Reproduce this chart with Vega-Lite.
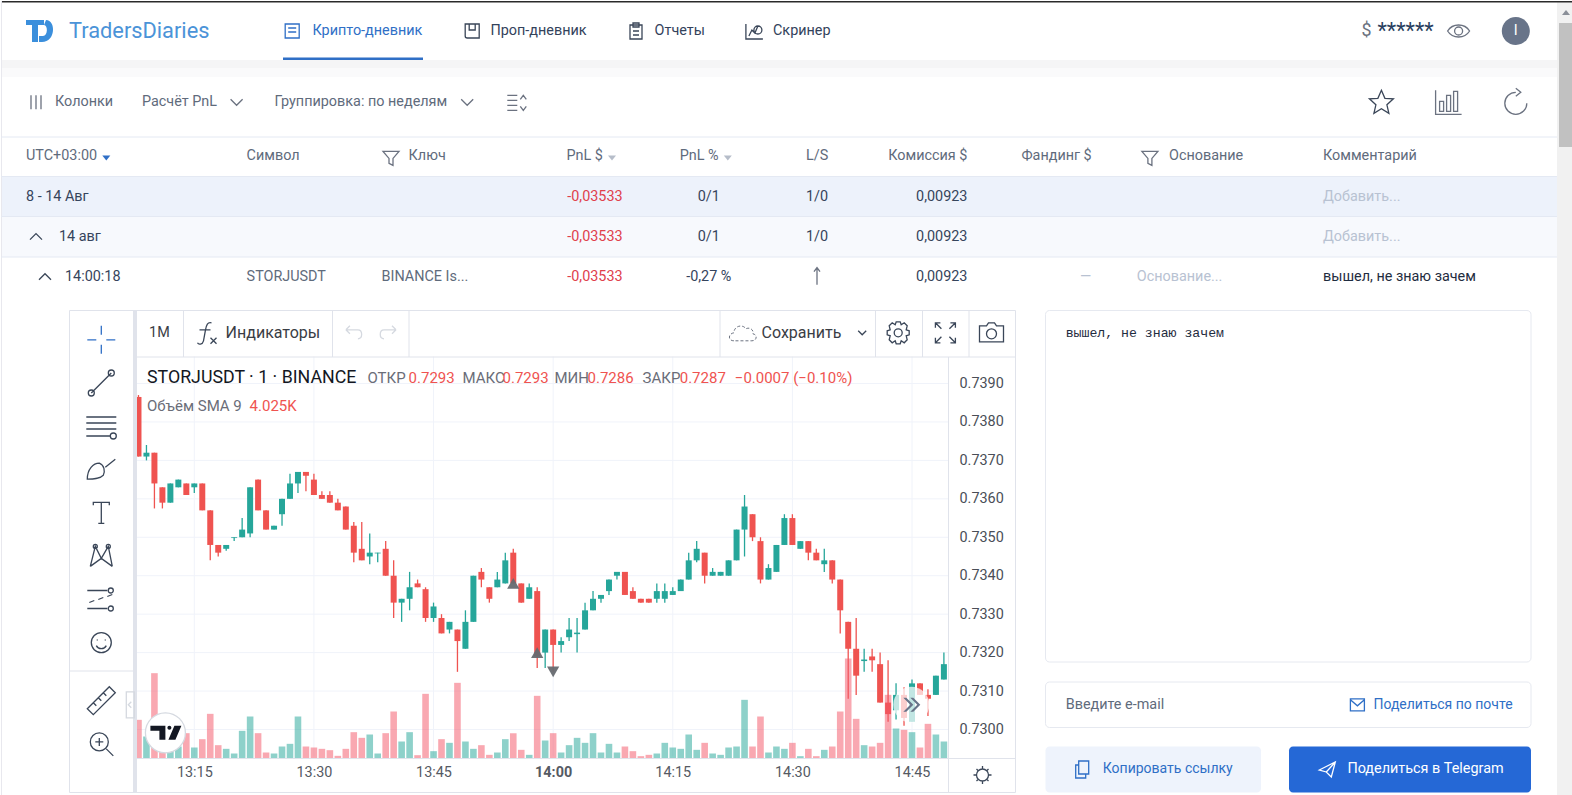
{
  "$schema": "https://vega.github.io/schema/vega-lite/v6.json",
  "description": "TradersDiaries trade journal page with a one minute STORJUSDT candlestick chart and volume.",
  "width": 1572,
  "height": 795,
  "autosize": {"type": "fit", "contains": "padding"},
  "padding": 0,
  "background": "#ffffff",
  "config": {"view": {"stroke": null}},
  "resolve": {
    "scale": {"x": "independent", "y": "independent", "color": "independent", "shape": "independent"},
    "axis": {"x": "independent", "y": "independent"}
  },
  "datasets": {
    "candles": [
      {"t":"2022-08-14T13:08:00","open":0.73865,"high":0.7387,"low":0.7371,"close":0.7371,"volume":2320,"side":"down"},
      {"t":"2022-08-14T13:09:00","open":0.7371,"high":0.7374,"low":0.737,"close":0.7372,"volume":1320,"side":"up"},
      {"t":"2022-08-14T13:10:00","open":0.7372,"high":0.7372,"low":0.73575,"close":0.7364,"volume":5120,"side":"down"},
      {"t":"2022-08-14T13:11:00","open":0.7363,"high":0.7363,"low":0.73575,"close":0.7359,"volume":520,"side":"down"},
      {"t":"2022-08-14T13:12:00","open":0.7359,"high":0.7364,"low":0.7359,"close":0.7364,"volume":520,"side":"up"},
      {"t":"2022-08-14T13:13:00","open":0.7363,"high":0.7365,"low":0.7363,"close":0.7365,"volume":720,"side":"up"},
      {"t":"2022-08-14T13:14:00","open":0.7364,"high":0.7364,"low":0.7361,"close":0.7361,"volume":1520,"side":"down"},
      {"t":"2022-08-14T13:15:00","open":0.7363,"high":0.7364,"low":0.73615,"close":0.7364,"volume":660,"side":"up"},
      {"t":"2022-08-14T13:16:00","open":0.7364,"high":0.7364,"low":0.7357,"close":0.7357,"volume":1160,"side":"down"},
      {"t":"2022-08-14T13:17:00","open":0.7357,"high":0.7357,"low":0.7344,"close":0.7348,"volume":2680,"side":"down"},
      {"t":"2022-08-14T13:18:00","open":0.7348,"high":0.7348,"low":0.7345,"close":0.7346,"volume":800,"side":"down"},
      {"t":"2022-08-14T13:19:00","open":0.7347,"high":0.7348,"low":0.73465,"close":0.7348,"volume":580,"side":"up"},
      {"t":"2022-08-14T13:20:00","open":0.73498,"high":0.735,"low":0.7349,"close":0.735,"volume":300,"side":"up"},
      {"t":"2022-08-14T13:21:00","open":0.735,"high":0.7355,"low":0.735,"close":0.7352,"volume":1660,"side":"up"},
      {"t":"2022-08-14T13:22:00","open":0.7351,"high":0.7363,"low":0.735,"close":0.7363,"volume":2520,"side":"up"},
      {"t":"2022-08-14T13:23:00","open":0.7365,"high":0.7365,"low":0.7357,"close":0.7357,"volume":1520,"side":"down"},
      {"t":"2022-08-14T13:24:00","open":0.7357,"high":0.7357,"low":0.7352,"close":0.7352,"volume":360,"side":"down"},
      {"t":"2022-08-14T13:25:00","open":0.7352,"high":0.7353,"low":0.7352,"close":0.7353,"volume":300,"side":"up"},
      {"t":"2022-08-14T13:26:00","open":0.7356,"high":0.736,"low":0.7353,"close":0.736,"volume":720,"side":"up"},
      {"t":"2022-08-14T13:27:00","open":0.736,"high":0.73665,"low":0.736,"close":0.7364,"volume":880,"side":"up"},
      {"t":"2022-08-14T13:28:00","open":0.7364,"high":0.7367,"low":0.73615,"close":0.7367,"volume":2520,"side":"up"},
      {"t":"2022-08-14T13:29:00","open":0.7367,"high":0.7367,"low":0.7362,"close":0.7366,"volume":720,"side":"down"},
      {"t":"2022-08-14T13:30:00","open":0.7365,"high":0.73665,"low":0.7361,"close":0.7361,"volume":660,"side":"down"},
      {"t":"2022-08-14T13:31:00","open":0.7361,"high":0.7362,"low":0.736,"close":0.736,"volume":580,"side":"down"},
      {"t":"2022-08-14T13:32:00","open":0.7361,"high":0.7362,"low":0.7359,"close":0.7359,"volume":500,"side":"down"},
      {"t":"2022-08-14T13:33:00","open":0.7359,"high":0.736,"low":0.7357,"close":0.7357,"volume":160,"side":"down"},
      {"t":"2022-08-14T13:34:00","open":0.7358,"high":0.7358,"low":0.7352,"close":0.7352,"volume":580,"side":"down"},
      {"t":"2022-08-14T13:35:00","open":0.7353,"high":0.7354,"low":0.73435,"close":0.7346,"volume":1580,"side":"down"},
      {"t":"2022-08-14T13:36:00","open":0.7347,"high":0.7354,"low":0.7344,"close":0.7344,"volume":1240,"side":"down"},
      {"t":"2022-08-14T13:37:00","open":0.7345,"high":0.7351,"low":0.7343,"close":0.7346,"volume":1440,"side":"up"},
      {"t":"2022-08-14T13:38:00","open":0.73458,"high":0.7346,"low":0.73435,"close":0.7346,"volume":300,"side":"up"},
      {"t":"2022-08-14T13:39:00","open":0.7347,"high":0.7349,"low":0.734,"close":0.734,"volume":1520,"side":"down"},
      {"t":"2022-08-14T13:40:00","open":0.734,"high":0.7344,"low":0.7329,"close":0.7333,"volume":2820,"side":"down"},
      {"t":"2022-08-14T13:41:00","open":0.7333,"high":0.7334,"low":0.7328,"close":0.7334,"volume":1020,"side":"up"},
      {"t":"2022-08-14T13:42:00","open":0.7334,"high":0.7341,"low":0.7331,"close":0.7337,"volume":1580,"side":"up"},
      {"t":"2022-08-14T13:43:00","open":0.7338,"high":0.7339,"low":0.7337,"close":0.7337,"volume":200,"side":"down"},
      {"t":"2022-08-14T13:44:00","open":0.73365,"high":0.7337,"low":0.7328,"close":0.7329,"volume":3880,"side":"down"},
      {"t":"2022-08-14T13:45:00","open":0.7329,"high":0.7333,"low":0.7328,"close":0.7332,"volume":440,"side":"up"},
      {"t":"2022-08-14T13:46:00","open":0.7329,"high":0.733,"low":0.7325,"close":0.7325,"volume":1160,"side":"down"},
      {"t":"2022-08-14T13:47:00","open":0.7326,"high":0.7328,"low":0.7325,"close":0.7328,"volume":940,"side":"up"},
      {"t":"2022-08-14T13:48:00","open":0.7326,"high":0.7326,"low":0.7315,"close":0.7323,"volume":4540,"side":"down"},
      {"t":"2022-08-14T13:49:00","open":0.7321,"high":0.7331,"low":0.7321,"close":0.7328,"volume":1020,"side":"up"},
      {"t":"2022-08-14T13:50:00","open":0.7328,"high":0.734,"low":0.7328,"close":0.734,"volume":580,"side":"up"},
      {"t":"2022-08-14T13:51:00","open":0.7341,"high":0.7342,"low":0.7337,"close":0.7339,"volume":800,"side":"down"},
      {"t":"2022-08-14T13:52:00","open":0.7337,"high":0.7337,"low":0.7333,"close":0.7334,"volume":220,"side":"down"},
      {"t":"2022-08-14T13:53:00","open":0.7337,"high":0.7341,"low":0.7337,"close":0.7339,"volume":360,"side":"up"},
      {"t":"2022-08-14T13:54:00","open":0.7338,"high":0.7346,"low":0.7338,"close":0.7344,"volume":1160,"side":"up"},
      {"t":"2022-08-14T13:55:00","open":0.7346,"high":0.7347,"low":0.7338,"close":0.7338,"volume":1520,"side":"down"},
      {"t":"2022-08-14T13:56:00","open":0.7338,"high":0.7338,"low":0.7333,"close":0.7333,"volume":520,"side":"down"},
      {"t":"2022-08-14T13:57:00","open":0.7334,"high":0.7338,"low":0.7334,"close":0.7337,"volume":220,"side":"up"},
      {"t":"2022-08-14T13:58:00","open":0.7336,"high":0.7337,"low":0.7316,"close":0.7319,"volume":3760,"side":"down"},
      {"t":"2022-08-14T13:59:00","open":0.732,"high":0.7326,"low":0.7316,"close":0.7326,"volume":1080,"side":"up"},
      {"t":"2022-08-14T14:00:00","open":0.7326,"high":0.7326,"low":0.7315,"close":0.7322,"volume":1520,"side":"down"},
      {"t":"2022-08-14T14:01:00","open":0.7322,"high":0.7324,"low":0.732,"close":0.7323,"volume":360,"side":"up"},
      {"t":"2022-08-14T14:02:00","open":0.7324,"high":0.7329,"low":0.7323,"close":0.7326,"volume":800,"side":"up"},
      {"t":"2022-08-14T14:03:00","open":0.73248,"high":0.7329,"low":0.732,"close":0.73252,"volume":1240,"side":"up"},
      {"t":"2022-08-14T14:04:00","open":0.7326,"high":0.7333,"low":0.7326,"close":0.7331,"volume":940,"side":"up"},
      {"t":"2022-08-14T14:05:00","open":0.7331,"high":0.7336,"low":0.7331,"close":0.7334,"volume":1520,"side":"up"},
      {"t":"2022-08-14T14:06:00","open":0.7334,"high":0.7335,"low":0.7333,"close":0.7335,"volume":360,"side":"up"},
      {"t":"2022-08-14T14:07:00","open":0.7336,"high":0.7339,"low":0.7335,"close":0.7339,"volume":880,"side":"up"},
      {"t":"2022-08-14T14:08:00","open":0.734,"high":0.7341,"low":0.7339,"close":0.7341,"volume":360,"side":"up"},
      {"t":"2022-08-14T14:09:00","open":0.7341,"high":0.7341,"low":0.7335,"close":0.7335,"volume":720,"side":"down"},
      {"t":"2022-08-14T14:10:00","open":0.7336,"high":0.7337,"low":0.7334,"close":0.7334,"volume":440,"side":"down"},
      {"t":"2022-08-14T14:11:00","open":0.7334,"high":0.7334,"low":0.7333,"close":0.7333,"volume":140,"side":"down"},
      {"t":"2022-08-14T14:12:00","open":0.7334,"high":0.7334,"low":0.7333,"close":0.7333,"volume":220,"side":"down"},
      {"t":"2022-08-14T14:13:00","open":0.7334,"high":0.7338,"low":0.7333,"close":0.7336,"volume":300,"side":"up"},
      {"t":"2022-08-14T14:14:00","open":0.7334,"high":0.7338,"low":0.7333,"close":0.7336,"volume":940,"side":"up"},
      {"t":"2022-08-14T14:15:00","open":0.7335,"high":0.7337,"low":0.7335,"close":0.7336,"volume":660,"side":"up"},
      {"t":"2022-08-14T14:16:00","open":0.7336,"high":0.7339,"low":0.7336,"close":0.7339,"volume":580,"side":"up"},
      {"t":"2022-08-14T14:17:00","open":0.7339,"high":0.7346,"low":0.7339,"close":0.7344,"volume":1440,"side":"up"},
      {"t":"2022-08-14T14:18:00","open":0.7344,"high":0.7349,"low":0.73435,"close":0.7347,"volume":520,"side":"up"},
      {"t":"2022-08-14T14:19:00","open":0.7346,"high":0.7346,"low":0.7338,"close":0.734,"volume":940,"side":"down"},
      {"t":"2022-08-14T14:20:00","open":0.734,"high":0.7342,"low":0.734,"close":0.7341,"volume":300,"side":"up"},
      {"t":"2022-08-14T14:21:00","open":0.734,"high":0.7341,"low":0.734,"close":0.7341,"volume":220,"side":"up"},
      {"t":"2022-08-14T14:22:00","open":0.734,"high":0.7344,"low":0.734,"close":0.7344,"volume":660,"side":"up"},
      {"t":"2022-08-14T14:23:00","open":0.7344,"high":0.7352,"low":0.7344,"close":0.7352,"volume":720,"side":"up"},
      {"t":"2022-08-14T14:24:00","open":0.7352,"high":0.7361,"low":0.7345,"close":0.7358,"volume":3520,"side":"up"},
      {"t":"2022-08-14T14:25:00","open":0.7356,"high":0.7356,"low":0.7349,"close":0.735,"volume":720,"side":"down"},
      {"t":"2022-08-14T14:26:00","open":0.7349,"high":0.735,"low":0.7338,"close":0.7339,"volume":2520,"side":"down"},
      {"t":"2022-08-14T14:27:00","open":0.7339,"high":0.7343,"low":0.7339,"close":0.7342,"volume":360,"side":"up"},
      {"t":"2022-08-14T14:28:00","open":0.7341,"high":0.7348,"low":0.7341,"close":0.7348,"volume":720,"side":"up"},
      {"t":"2022-08-14T14:29:00","open":0.7348,"high":0.7356,"low":0.7348,"close":0.7355,"volume":580,"side":"up"},
      {"t":"2022-08-14T14:30:00","open":0.7355,"high":0.7356,"low":0.7348,"close":0.7348,"volume":940,"side":"down"},
      {"t":"2022-08-14T14:31:00","open":0.7347,"high":0.7349,"low":0.7347,"close":0.7349,"volume":140,"side":"up"},
      {"t":"2022-08-14T14:32:00","open":0.7349,"high":0.7349,"low":0.7344,"close":0.7346,"volume":580,"side":"down"},
      {"t":"2022-08-14T14:33:00","open":0.7346,"high":0.7347,"low":0.7344,"close":0.7344,"volume":140,"side":"down"},
      {"t":"2022-08-14T14:34:00","open":0.7343,"high":0.7347,"low":0.7341,"close":0.7344,"volume":520,"side":"up"},
      {"t":"2022-08-14T14:35:00","open":0.7344,"high":0.7344,"low":0.7338,"close":0.7339,"volume":720,"side":"down"},
      {"t":"2022-08-14T14:36:00","open":0.7339,"high":0.7339,"low":0.7325,"close":0.7331,"volume":2820,"side":"down"},
      {"t":"2022-08-14T14:37:00","open":0.7328,"high":0.7328,"low":0.7308,"close":0.7321,"volume":6000,"side":"down"},
      {"t":"2022-08-14T14:38:00","open":0.7321,"high":0.7329,"low":0.7309,"close":0.7314,"volume":2380,"side":"down"},
      {"t":"2022-08-14T14:39:00","open":0.73178,"high":0.7321,"low":0.7315,"close":0.73182,"volume":800,"side":"up"},
      {"t":"2022-08-14T14:40:00","open":0.7319,"high":0.7321,"low":0.7315,"close":0.7318,"volume":720,"side":"down"},
      {"t":"2022-08-14T14:41:00","open":0.7317,"high":0.732,"low":0.7307,"close":0.7307,"volume":940,"side":"down"},
      {"t":"2022-08-14T14:42:00","open":0.7307,"high":0.7318,"low":0.7302,"close":0.7304,"volume":3820,"side":"down"},
      {"t":"2022-08-14T14:43:00","open":0.7305,"high":0.7312,"low":0.73026,"close":0.7309,"volume":1800,"side":"up"},
      {"t":"2022-08-14T14:44:00","open":0.7309,"high":0.7311,"low":0.7301,"close":0.7303,"volume":1720,"side":"down"},
      {"t":"2022-08-14T14:45:00","open":0.7302,"high":0.7313,"low":0.7302,"close":0.7312,"volume":1580,"side":"up"},
      {"t":"2022-08-14T14:46:00","open":0.7312,"high":0.7312,"low":0.7309,"close":0.7309,"volume":660,"side":"down"},
      {"t":"2022-08-14T14:47:00","open":0.7309,"high":0.73105,"low":0.73035,"close":0.7308,"volume":2080,"side":"down"},
      {"t":"2022-08-14T14:48:00","open":0.7309,"high":0.7314,"low":0.7309,"close":0.7314,"volume":1440,"side":"up"},
      {"t":"2022-08-14T14:49:00","open":0.7313,"high":0.732,"low":0.7313,"close":0.7317,"volume":1020,"side":"up"},
      {"t":"2022-08-14T14:50:00","open":0.7316,"high":0.7318,"low":0.7316,"close":0.7318,"volume":1220,"side":"up"}
    ],
    "priceLines": [
      {"price":0.73,"from":"2022-08-14T13:07:00","to":"2022-08-14T14:50:00"},
      {"price":0.731,"from":"2022-08-14T13:07:00","to":"2022-08-14T14:50:00"},
      {"price":0.732,"from":"2022-08-14T13:07:00","to":"2022-08-14T14:50:00"},
      {"price":0.733,"from":"2022-08-14T13:07:00","to":"2022-08-14T14:50:00"},
      {"price":0.734,"from":"2022-08-14T13:07:00","to":"2022-08-14T14:50:00"},
      {"price":0.735,"from":"2022-08-14T13:07:00","to":"2022-08-14T14:50:00"},
      {"price":0.736,"from":"2022-08-14T13:07:00","to":"2022-08-14T14:50:00"},
      {"price":0.737,"from":"2022-08-14T13:07:00","to":"2022-08-14T14:50:00"},
      {"price":0.738,"from":"2022-08-14T13:07:00","to":"2022-08-14T14:50:00"},
      {"price":0.739,"from":"2022-08-14T13:07:00","to":"2022-08-14T14:50:00"}
    ],
    "timeLines": [
      {"t":"2022-08-14T13:15:00","top":0.7397,"bottom":0.7293},
      {"t":"2022-08-14T13:30:00","top":0.7397,"bottom":0.7293},
      {"t":"2022-08-14T13:45:00","top":0.7397,"bottom":0.7293},
      {"t":"2022-08-14T14:00:00","top":0.7397,"bottom":0.7293},
      {"t":"2022-08-14T14:15:00","top":0.7397,"bottom":0.7293},
      {"t":"2022-08-14T14:30:00","top":0.7397,"bottom":0.7293},
      {"t":"2022-08-14T14:45:00","top":0.7397,"bottom":0.7293}
    ],
    "executions": [
      {"t":"2022-08-14T13:55:00","price":0.7338,"side":"up"},
      {"t":"2022-08-14T13:58:00","price":0.732,"side":"up"},
      {"t":"2022-08-14T14:00:00","price":0.7315,"side":"down"}
    ],
    "fills": [
      {"left":20,"right":23,"top":0,"bottom":21,"kind":"track"},
      {"left":21,"right":22,"top":2,"bottom":8,"kind":"thumb"},
      {"left":0,"right":23,"top":0,"bottom":1,"kind":"dark"},
      {"left":0,"right":20,"top":4,"bottom":5,"kind":"shade1"},
      {"left":0,"right":20,"top":5,"bottom":6,"kind":"shade2"},
      {"left":6,"right":9,"top":3,"bottom":4,"kind":"accent"},
      {"left":0,"right":20,"top":9,"bottom":10,"kind":"week"},
      {"left":0,"right":20,"top":10,"bottom":11,"kind":"day"},
      {"left":2,"right":4,"top":12,"bottom":20,"kind":"white"},
      {"left":13,"right":15,"top":13,"bottom":20,"kind":"white"},
      {"left":3,"right":4,"top":12,"bottom":20,"kind":"frame"}
    ],
    "buttons": [
      {"left":16,"right":17,"top":18,"bottom":20,"kind":"btnLight"},
      {"left":18,"right":19,"top":18,"bottom":20,"kind":"btnBlue"}
    ],
    "boxes": [
      {"left":16,"right":19,"top":12,"bottom":14,"kind":"box"},
      {"left":16,"right":19,"top":16,"bottom":17,"kind":"box"}
    ],
    "uprights": [
      {"left":1,"top":0,"bottom":21,"kind":"edge"},
      {"left":2,"top":12,"bottom":20,"kind":"frame"},
      {"left":15,"top":12,"bottom":20,"kind":"frame"},
      {"left":13,"top":13,"bottom":20,"kind":"frame"},
      {"left":5,"top":12,"bottom":13,"kind":"frame"},
      {"left":7,"top":12,"bottom":13,"kind":"frame"},
      {"left":8,"top":12,"bottom":13,"kind":"frame"},
      {"left":10,"top":12,"bottom":13,"kind":"frame"},
      {"left":11,"top":12,"bottom":13,"kind":"frame"},
      {"left":12,"top":12,"bottom":13,"kind":"frame"},
      {"left":14,"top":12,"bottom":13,"kind":"frame"}
    ],
    "levels": [
      {"left":0,"right":20,"top":7,"kind":"line"},
      {"left":0,"right":20,"top":9,"kind":"line"},
      {"left":0,"right":20,"top":10,"kind":"line"},
      {"left":0,"right":20,"top":11,"kind":"line"},
      {"left":2,"right":15,"top":12,"kind":"frame"},
      {"left":2,"right":15,"top":20,"kind":"frame"},
      {"left":4,"right":15,"top":13,"kind":"frame"},
      {"left":4,"right":15,"top":19,"kind":"frame"},
      {"left":2,"right":3,"top":15,"kind":"frame"}
    ],
    "iconsFilled": [
      {"icon":"disc20","col":6,"row":17,"tone":"white"},
      {"icon":"disc18","col":24,"row":16,"tone":"veil"},
      {"icon":"disc14","col":35,"row":1,"tone":"slate"},
      {"icon":"logoTD","col":1,"row":1,"tone":"logo"},
      {"icon":"tvLogo","col":6,"row":17,"tone":"black"},
      {"icon":"doubleChevron","col":24,"row":16,"tone":"slate"},
      {"icon":"triDown","col":4,"row":3,"tone":"accent"},
      {"icon":"triDown","col":16,"row":3,"tone":"pale"},
      {"icon":"triDown","col":18,"row":3,"tone":"pale"},
      {"icon":"triUp","col":36,"row":0,"tone":"gray"}
    ],
    "iconsLine": [
      {"icon":"columns","col":0,"row":2,"tone":"gray"},
      {"icon":"chevDown","col":8,"row":2,"tone":"gray"},
      {"icon":"chevDown","col":13,"row":2,"tone":"gray"},
      {"icon":"sort","col":15,"row":2,"tone":"gray"},
      {"icon":"star","col":32,"row":2,"tone":"ink"},
      {"icon":"bars","col":33,"row":2,"tone":"gray"},
      {"icon":"refresh","col":35,"row":2,"tone":"gray"},
      {"icon":"book","col":9,"row":1,"tone":"accent"},
      {"icon":"prop","col":14,"row":1,"tone":"ink"},
      {"icon":"reports","col":17,"row":1,"tone":"ink"},
      {"icon":"screener","col":20,"row":1,"tone":"ink"},
      {"icon":"eye","col":34,"row":1,"tone":"gray"},
      {"icon":"filter","col":12,"row":3,"tone":"gray"},
      {"icon":"filter","col":29,"row":3,"tone":"gray"},
      {"icon":"chevUp","col":0,"row":4,"tone":"ink"},
      {"icon":"chevUp","col":2,"row":5,"tone":"ink"},
      {"icon":"arrowUp","col":21,"row":5,"tone":"gray"},
      {"icon":"crosshair","col":3,"row":7,"tone":"accent"},
      {"icon":"trend","col":3,"row":8,"tone":"ink"},
      {"icon":"fib","col":3,"row":9,"tone":"ink"},
      {"icon":"brush","col":3,"row":10,"tone":"ink"},
      {"icon":"tee","col":3,"row":11,"tone":"ink"},
      {"icon":"pattern","col":3,"row":12,"tone":"ink"},
      {"icon":"forecast","col":3,"row":13,"tone":"ink"},
      {"icon":"smile","col":3,"row":14,"tone":"ink"},
      {"icon":"ruler","col":3,"row":15,"tone":"ink"},
      {"icon":"zoomIn","col":3,"row":18,"tone":"ink"},
      {"icon":"handle","col":5,"row":16,"tone":"pale"},
      {"icon":"fx","col":7,"row":6,"tone":"ink"},
      {"icon":"undo","col":10,"row":6,"tone":"pale"},
      {"icon":"redo","col":11,"row":6,"tone":"pale"},
      {"icon":"chevSmall","col":22,"row":6,"tone":"ink"},
      {"icon":"gear","col":23,"row":6,"tone":"ink"},
      {"icon":"fullscreen","col":25,"row":6,"tone":"ink"},
      {"icon":"camera","col":27,"row":6,"tone":"ink"},
      {"icon":"sun","col":26,"row":20,"tone":"ink"},
      {"icon":"mail","col":31,"row":16,"tone":"accent"},
      {"icon":"copy","col":28,"row":19,"tone":"accent"},
      {"icon":"send","col":30,"row":19,"tone":"white"},
      {"icon":"disc20","col":6,"row":17,"tone":"pale"}
    ],
    "iconsDashed": [
      {"col":19,"row":6}
    ],
    "labelsLarge": [
      {"text":"TradersDiaries","col":4,"row":0,"kind":"logo"},
      {"text":"******","col":43,"row":0,"kind":"stars"}
    ],
    "labelsTitle": [
      {"text":"$","col":41,"row":0,"kind":"money"},
      {"text":"STORJUSDT · 1 · BINANCE","col":6,"row":7,"kind":"title"}
    ],
    "labelsTv": [
      {"text":"Индикаторы","col":8,"row":6,"kind":"tv"},
      {"text":"Сохранить","col":28,"row":6,"kind":"tv"}
    ],
    "labelsChart": [
      {"text":"ОТКР","col":13,"row":7,"kind":"legend"},
      {"text":"0.7293","col":15,"row":7,"kind":"red"},
      {"text":"МАКС","col":16,"row":7,"kind":"legend"},
      {"text":"0.7293","col":18,"row":7,"kind":"red"},
      {"text":"МИН","col":19,"row":7,"kind":"legend"},
      {"text":"0.7286","col":21,"row":7,"kind":"red"},
      {"text":"ЗАКР","col":23,"row":7,"kind":"legend"},
      {"text":"0.7287","col":25,"row":7,"kind":"red"},
      {"text":"−0.0007 (−0.10%)","col":27,"row":7,"kind":"red"},
      {"text":"Объём SMA 9","col":6,"row":8,"kind":"legend"},
      {"text":"4.025K","col":10,"row":8,"kind":"red"}
    ],
    "labelsLink": [
      {"text":"Поделиться по почте","col":42,"row":9,"kind":"link"},
      {"text":"Копировать ссылку","col":36,"row":10,"kind":"link"}
    ],
    "labelsLeft": [
      {"text":"Крипто-дневник","col":12,"row":0,"kind":"navActive"},
      {"text":"Проп-дневник","col":17,"row":0,"kind":"nav"},
      {"text":"Отчеты","col":24,"row":0,"kind":"nav"},
      {"text":"Скринер","col":29,"row":0,"kind":"nav"},
      {"text":"Колонки","col":1,"row":1,"kind":"head"},
      {"text":"Расчёт PnL","col":5,"row":1,"kind":"head"},
      {"text":"Группировка: по неделям","col":11,"row":1,"kind":"head"},
      {"text":"UTC+03:00","col":0,"row":2,"kind":"head"},
      {"text":"Символ","col":9,"row":2,"kind":"head"},
      {"text":"Ключ","col":15,"row":2,"kind":"head"},
      {"text":"PnL $","col":20,"row":2,"kind":"head"},
      {"text":"PnL %","col":25,"row":2,"kind":"head"},
      {"text":"L/S","col":30,"row":2,"kind":"head"},
      {"text":"Основание","col":38,"row":2,"kind":"head"},
      {"text":"Комментарий","col":39,"row":2,"kind":"head"},
      {"text":"8 - 14 Авг","col":0,"row":3,"kind":"cell"},
      {"text":"Добавить...","col":39,"row":3,"kind":"hint"},
      {"text":"14 авг","col":2,"row":4,"kind":"cell"},
      {"text":"Добавить...","col":39,"row":4,"kind":"hint"},
      {"text":"14:00:18","col":3,"row":5,"kind":"cell"},
      {"text":"STORJUSDT","col":9,"row":5,"kind":"head"},
      {"text":"BINANCE Is...","col":14,"row":5,"kind":"head"},
      {"text":"Основание...","col":37,"row":5,"kind":"hint"},
      {"text":"вышел, не знаю зачем","col":39,"row":5,"kind":"dark"},
      {"text":"Введите e-mail","col":33,"row":9,"kind":"head"},
      {"text":"Поделиться в Telegram","col":40,"row":10,"kind":"white"}
    ],
    "labelsRight": [
      {"text":"Комиссия $","col":32,"row":2,"kind":"head"},
      {"text":"Фандинг $","col":35,"row":2,"kind":"head"},
      {"text":"-0,03533","col":22,"row":3,"kind":"loss"},
      {"text":"-0,03533","col":22,"row":4,"kind":"loss"},
      {"text":"-0,03533","col":22,"row":5,"kind":"loss"},
      {"text":"0,00923","col":32,"row":3,"kind":"cell"},
      {"text":"0,00923","col":32,"row":4,"kind":"cell"},
      {"text":"0,00923","col":32,"row":5,"kind":"cell"}
    ],
    "labelsCenter": [
      {"text":"0/1","col":26,"row":3,"kind":"cell"},
      {"text":"0/1","col":26,"row":4,"kind":"cell"},
      {"text":"-0,27 %","col":26,"row":5,"kind":"cell"},
      {"text":"1/0","col":31,"row":3,"kind":"cell"},
      {"text":"1/0","col":31,"row":4,"kind":"cell"},
      {"text":"—","col":34,"row":5,"kind":"hint"},
      {"text":"1M","col":7,"row":6,"kind":"tv"},
      {"text":"I","col":44,"row":0,"kind":"white"}
    ],
    "labelsMono": [
      {"text":"вышел, не знаю зачем","col":33,"row":6,"kind":"dark"}
    ]
  },
  "layer": [
    {
      "encoding": {
        "x": {
          "field": "t", "type": "temporal", "axis": null,
          "scale": {"domain": ["2022-08-14T13:15:00", "2022-08-14T14:45:00"], "range": [193.3, 911], "nice": false, "padding": 0}
        }
      },
      "layer": [
        {
          "data": {"name": "timeLines"},
          "mark": {"type": "rule", "color": "#f0f3fa", "strokeWidth": 1},
          "encoding": {
            "y": {"field": "top", "type": "quantitative", "axis": null, "scale": {"domain": [0.73, 0.739], "range": [728.5, 382.5], "zero": false, "nice": false}},
            "y2": {"field": "bottom"}
          }
        },
        {
          "data": {"name": "priceLines"},
          "mark": {"type": "rule", "color": "#f0f3fa", "strokeWidth": 1},
          "encoding": {
            "x": {"field": "from", "type": "temporal", "axis": null, "scale": {"domain": ["2022-08-14T13:15:00", "2022-08-14T14:45:00"], "range": [193.3, 911], "nice": false, "padding": 0}},
            "x2": {"field": "to"},
            "y": {"field": "price", "type": "quantitative", "axis": null, "scale": {"domain": [0.73, 0.739], "range": [728.5, 382.5], "zero": false, "nice": false}}
          }
        },
        {
          "data": {"name": "candles"},
          "mark": {"type": "rule", "strokeWidth": 1.3},
          "encoding": {
            "y": {"field": "low", "type": "quantitative", "axis": null, "scale": {"domain": [0.73, 0.739], "range": [728.5, 382.5], "zero": false, "nice": false}},
            "y2": {"field": "high"},
            "color": {"field": "side", "type": "nominal", "legend": null, "scale": {"domain": ["up", "down"], "range": ["#26a69a", "#ef5350"]}}
          }
        },
        {
          "data": {"name": "candles"},
          "mark": {"type": "bar", "size": 6},
          "encoding": {
            "y": {"field": "open", "type": "quantitative", "axis": null, "scale": {"domain": [0.73, 0.739], "range": [728.5, 382.5], "zero": false, "nice": false}},
            "y2": {"field": "close"},
            "color": {"field": "side", "type": "nominal", "legend": null, "scale": {"domain": ["up", "down"], "range": ["#26a69a", "#ef5350"]}}
          }
        },
        {
          "data": {"name": "executions"},
          "mark": {"type": "point", "filled": true, "size": 150, "opacity": 0.95, "color": "#666a70"},
          "encoding": {
            "y": {"field": "price", "type": "quantitative", "axis": null, "scale": {"domain": [0.73, 0.739], "range": [728.5, 382.5], "zero": false, "nice": false}},
            "shape": {"field": "side", "type": "nominal", "legend": null, "scale": {"domain": ["up", "down"], "range": ["triangle-up", "triangle-down"]}}
          }
        }
      ]
    },
    {
      "data": {"name": "candles"},
      "mark": {"type": "bar", "size": 6.6, "opacity": 0.52},
      "encoding": {
        "x": {
          "field": "t", "type": "temporal", "title": null,
          "scale": {"domain": ["2022-08-14T13:15:00", "2022-08-14T14:45:00"], "range": [193.3, 911], "nice": false, "padding": 0},
          "axis": {
            "orient": "bottom", "offset": -37.5, "zindex": 1, "grid": false, "domain": false, "ticks": false, "labelFlush": false,
            "values": ["2022-08-14T13:15:00", "2022-08-14T13:30:00", "2022-08-14T13:45:00", "2022-08-14T14:00:00", "2022-08-14T14:15:00", "2022-08-14T14:30:00", "2022-08-14T14:45:00"],
            "format": "%H:%M", "labelFont": "Roboto", "labelFontSize": 14.4, "labelPadding": 9, "labelColor": "#555a63",
            "labelFontWeight": {"condition": {"test": "hours(datum.value) == 14 && minutes(datum.value) == 0", "value": "bold"}, "value": "normal"}
          }
        },
        "y": {
          "field": "volume", "type": "quantitative", "title": null,
          "scale": {"domain": [0, 6000], "range": [757.5, 657.5], "nice": false},
          "axis": null
        },
        "color": {"field": "side", "type": "nominal", "legend": null, "scale": {"domain": ["up", "down"], "range": ["#26a69a", "#f4596a"]}}
      }
    },
    {
      "encoding": {
        "x": {
          "field": "left", "type": "quantitative", "axis": null,
          "scale": {
            "domain": [0, 1, 2, 3, 4, 5, 6, 7, 8, 9, 10, 11, 12, 13, 14, 15, 16, 17, 18, 19, 20, 21, 22, 23],
            "range": [0, 0.5, 68.5, 132, 136, 182.5, 282, 331.5, 408, 422, 719, 874.5, 921.5, 947.5, 968, 1014.5, 1044.5, 1260, 1288, 1530, 1556, 1558, 1571.5, 1572],
            "zero": false, "nice": false
          }
        },
        "y": {
          "field": "top", "type": "quantitative", "axis": null,
          "scale": {
            "domain": [0, 1, 2, 3, 4, 5, 6, 7, 8, 9, 10, 11, 12, 13, 14, 15, 16, 17, 18, 19, 20, 21],
            "range": [0, 1.5, 22, 56.5, 59, 67, 76, 136, 146, 175.5, 215.5, 256, 309.5, 356, 661, 670, 681, 726.5, 745.5, 757.5, 791.5, 795],
            "zero": false, "nice": false
          }
        },
        "color": {
          "field": "kind", "type": "nominal", "legend": null,
          "scale": {
            "domain": ["track", "thumb", "dark", "shade1", "shade2", "accent", "week", "day", "white", "frame", "btnLight", "btnBlue", "line", "box", "edge"],
            "range": ["#f1f1f1", "#c1c1c1", "#2a2a2a", "#f5f5f6", "#fafafb", "#2f6fc6", "#edf2fb", "#f7f9fd", "#ffffff", "#e0e3eb", "#eef3fc", "#2568d6", "#e4e9f3", "#e6e9f0", "#e8e8ee"]
          }
        }
      },
      "layer": [
        {"data": {"name": "fills"}, "mark": {"type": "rect"}, "encoding": {"x2": {"field": "right"}, "y2": {"field": "bottom"}}},
        {"data": {"name": "buttons"}, "mark": {"type": "rect", "cornerRadius": 4}, "encoding": {"x2": {"field": "right"}, "y2": {"field": "bottom"}}},
        {"data": {"name": "boxes"}, "mark": {"type": "rect", "filled": false, "cornerRadius": 4, "strokeWidth": 1}, "encoding": {"x2": {"field": "right"}, "y2": {"field": "bottom"}}},
        {"data": {"name": "uprights"}, "mark": {"type": "rule", "strokeWidth": 1}, "encoding": {"y2": {"field": "bottom"}}},
        {"data": {"name": "levels"}, "mark": {"type": "rule", "strokeWidth": 1}, "encoding": {"x2": {"field": "right"}}}
      ]
    },
    {
      "data": {"name": "priceLines"},
      "mark": {"type": "rule", "opacity": 0},
      "encoding": {
        "x": {"field": "from", "type": "temporal", "axis": null, "scale": {"domain": ["2022-08-14T13:15:00", "2022-08-14T14:45:00"], "range": [193.3, 911], "nice": false, "padding": 0}},
        "y": {
          "field": "price", "type": "quantitative", "title": null,
          "scale": {"domain": [0.73, 0.739], "range": [728.5, 382.5], "zero": false, "nice": false},
          "axis": {
            "orient": "right", "offset": -624, "zindex": 1, "grid": false, "domain": false, "ticks": false, "labelFlush": false,
            "values": [0.73, 0.731, 0.732, 0.733, 0.734, 0.735, 0.736, 0.737, 0.738, 0.739],
            "format": ".4f", "labelFont": "Roboto", "labelFontSize": 14.4, "labelPadding": 11, "labelColor": "#4a4e57"
          }
        }
      }
    },
    {
      "resolve": {"scale": {"shape": "independent", "color": "independent"}},
      "encoding": {
        "x": {
          "field": "col", "type": "quantitative", "axis": null,
          "scale": {
            "domain": [0, 1, 2, 3, 4, 5, 6, 7, 8, 9, 10, 11, 12, 13, 14, 15, 16, 17, 18, 19, 20, 21, 22, 23, 24, 25, 26, 27, 28, 29, 30, 31, 32, 33, 34, 35, 36],
            "range": [35, 39, 44, 100.3, 105.3, 129.3, 164.4, 205.5, 235.6, 291.2, 352.9, 387, 390, 466.2, 471.2, 515.3, 611, 635, 726.8, 741.9, 752.9, 816, 861.2, 897.2, 910.3, 944.4, 981.5, 990.5, 1081.7, 1148.9, 1326.3, 1356.4, 1380.4, 1447.6, 1457.6, 1514.8, 1565],
            "zero": false, "nice": false
          }
        },
        "y": {
          "field": "row", "type": "quantitative", "axis": null,
          "scale": {
            "domain": [0, 1, 2, 3, 4, 5, 6, 7, 8, 9, 10, 11, 12, 13, 14, 15, 16, 17, 18, 19, 20],
            "range": [12, 30, 101.3, 156.4, 235.6, 275.7, 331.8, 338.8, 382, 425, 468.2, 511.3, 554.4, 598.5, 641.6, 699.7, 703.8, 731.8, 742.9, 768, 774],
            "zero": false, "nice": false
          }
        }
      },
      "layer": [
        {
          "data": {"name": "iconsFilled"},
          "mark": {"type": "point", "filled": true, "size": 4, "opacity": 1, "strokeWidth": 0},
          "encoding": {
            "shape": {
              "field": "icon", "type": "nominal", "legend": null,
              "scale": {
                "domain": ["disc20", "disc18", "disc14", "logoTD", "tvLogo", "doubleChevron", "triDown", "triUp"],
                "range": [
                  "M20,0A20,20 0 1,1 -20,0A20,20 0 1,1 20,0Z",
                  "M18,0A18,18 0 1,1 -18,0A18,18 0 1,1 18,0Z",
                  "M14,0A14,14 0 1,1 -14,0A14,14 0 1,1 14,0Z",
                  "M-14,-11H4V-6H-2V11H-8V-6H-14ZM6,-11C16,-11 16,11 2,11H-1V5H3C8,5 8,-6 4,-6Z",
                  "M-15,-7H0V7H-6V-2H-15ZM2,-5A2,2 0 1,1 6,-5A2,2 0 1,1 2,-5ZM9,-7H16L10,7H3Z",
                  "M-8,-7L-5,-7L2,0L-5,7L-8,7L-1,0ZM-1,-7L2,-7L9,0L2,7L-1,7L6,0Z",
                  "M-4,-2H4L0,3Z",
                  "M-4,2L0,-3L4,2Z"
                ]
              }
            },
            "color": {
              "field": "tone", "type": "nominal", "legend": null,
              "scale": {
                "domain": ["white", "veil", "slate", "logo", "black", "accent", "pale", "gray"],
                "range": ["#ffffff", "rgba(255,255,255,0.72)", "#687489", "#3b8fdc", "#131722", "#2f6fc6", "#b6bdc9", "#8a8f98"]
              }
            }
          }
        },
        {
          "data": {"name": "iconsLine"},
          "mark": {"type": "point", "filled": false, "size": 4, "opacity": 1, "strokeWidth": 1.3},
          "encoding": {
            "shape": {
              "field": "icon", "type": "nominal", "legend": null,
              "scale": {
                "domain": ["columns", "chevDown", "chevUp", "chevSmall", "sort", "star", "bars", "refresh", "book", "prop", "reports", "screener", "eye", "filter", "arrowUp", "crosshair", "trend", "fib", "brush", "tee", "pattern", "forecast", "smile", "ruler", "zoomIn", "handle", "fx", "undo", "redo", "gear", "fullscreen", "camera", "sun", "mail", "copy", "send", "disc20"],
                "range": [
                  "M-5,-7V7M0,-7V7M5,-7V7",
                  "M-6,-3L0,3L6,-3",
                  "M-6,3L0,-3L6,3",
                  "M-4,-2L0,2L4,-2",
                  "M-9,-7H1M-9,-2H1M-9,3H1M-9,8H1M4,-3L7,-7L10,-3M4,4L7,8L10,4",
                  "M0,-12L3.5,-4L12,-3.5L5.5,2.5L7.5,11L0,6.5L-7.5,11L-5.5,2.5L-12,-3.5L-3.5,-4Z",
                  "M-13,-12V12H13M-9,9V-1H-5V9ZM-2,9V-7H2V9ZM5,9V-11H9V9Z",
                  "M0,-10A11,11 0 1,0 11,1M0,-14L5,-10L0,-6",
                  "M-7,-7H7V7H-7ZM-4,-3H4M-4,1H4",
                  "M-7,-7H7V7H-5A2,2 0 0 1 -7,5ZM-3,-7V-1H3V-7",
                  "M-6,-6H6V8H-6ZM-3,-8H3V-4H-3ZM-3,0H3M-3,4H3",
                  "M-8,-7V8H9M-5,5L-2,-1L1,2L4,-5M4,-5A4,4 0 1,1 4,3A4,4 0 1,1 4,-5",
                  "M-11,0C-6,-8 6,-8 11,0C6,8 -6,8 -11,0ZM4,0A4,4 0 1,1 -4,0A4,4 0 1,1 4,0Z",
                  "M-8,-6H8L2,1V8L-2,6V1Z",
                  "M0,8V-8M-3,-5L0,-9L3,-5",
                  "M-14,0H-5M5,0H14M0,-14V-5M0,5V14",
                  "M-10,10L10,-10M-10,13A3,3 0 1,1 -10,7A3,3 0 1,1 -10,13ZM10,-7A3,3 0 1,1 10,-13A3,3 0 1,1 10,-7Z",
                  "M-15,-9H15M-15,-3H15M-15,3H15M-15,10H9M15,10A3,3 0 1,1 9,10A3,3 0 1,1 15,10Z",
                  "M-14,10C-14,0 -8,-6 -2,-6C3,-4 4,2 2,6C-2,10 -8,10 -14,10ZM4,-2L14,-10",
                  "M-8,-7V-10H8V-7M0,-10V11M-3,11H3",
                  "M-11,11L-6,-9L0,3L7,-9L11,11M-11,11L0,3L11,11M-4,-9A2,2 0 1,1 -8,-9A2,2 0 1,1 -4,-9ZM9,-9A2,2 0 1,1 5,-9A2,2 0 1,1 9,-9Z",
                  "M-14,-9H6M12,-9A2.5,2.5 0 1,1 7,-9A2.5,2.5 0 1,1 12,-9ZM-14,9H6M12,9A2.5,2.5 0 1,1 7,9A2.5,2.5 0 1,1 12,9ZM-12,3L-7,1M-3,0L2,-2M6,-3L11,-5",
                  "M10,0A10,10 0 1,1 -10,0A10,10 0 1,1 10,0ZM-5,3C-3,7 3,7 5,3M-4,-3V-2M4,-3V-2",
                  "M-14,8L8,-14L14,-8L-8,14ZM-8,2L-5,5M-3,-3L0,0M2,-8L5,-5",
                  "M7,-2A9,9 0 1,1 -11,-2A9,9 0 1,1 7,-2ZM-2,-6V2M-6,-2H2M5,5L12,12",
                  "M-4,-13H4V13H-4ZM1,-3L-2,0L1,3",
                  "M5,-10C1,-11 0,-8 -1,-3L-3,8C-4,12 -8,12 -9,10M-7,-3H4M4,5L10,11M10,5L4,11",
                  "M-8,-3H4C9,-3 9,6 4,6M-8,-3L-4,-7M-8,-3L-4,1",
                  "M8,-3H-4C-9,-3 -9,6 -4,6M8,-3L4,-7M8,-3L4,1",
                  "M-2,-11H2L3,-8L6,-10L9,-7L8,-3L11,-2V2L8,3L9,7L6,10L3,8L2,11H-2L-3,8L-6,10L-9,7L-8,3L-11,2V-2L-8,-3L-9,-7L-6,-10L-3,-8ZM4,0A4,4 0 1,1 -4,0A4,4 0 1,1 4,0Z",
                  "M-10,-5V-10H-5M5,-10H10V-5M10,5V10H5M-5,10H-10V5M-10,-10L-4,-4M10,-10L4,-4M10,10L4,4M-10,10L-4,4",
                  "M-12,-7H-5L-3,-10H3L5,-7H12V9H-12ZM5,1A5,5 0 1,1 -5,1A5,5 0 1,1 5,1Z",
                  "M6,0A6,6 0 1,1 -6,0A6,6 0 1,1 6,0ZM0,-9V-6M0,6V9M-9,0H-6M6,0H9M-6,-6L-4,-4M4,4L6,6M6,-6L4,-4M-4,4L-6,6",
                  "M-7,-6H7V6H-7ZM-7,-5L0,1L7,-5",
                  "M-4,-8H6V5H-4ZM-4,-4H-7V9H3V5",
                  "M-8,1L8,-7L4,8L-1,3ZM-1,3L8,-7",
                  "M20,0A20,20 0 1,1 -20,0A20,20 0 1,1 20,0Z"
                ]
              }
            },
            "color": {
              "field": "tone", "type": "nominal", "legend": null,
              "scale": {
                "domain": ["ink", "gray", "accent", "pale", "white"],
                "range": ["#3a4658", "#6b7280", "#2f6fc6", "#d5d9e0", "#ffffff"]
              }
            }
          }
        },
        {
          "data": {"name": "iconsDashed"},
          "mark": {
            "type": "point", "filled": false, "size": 4, "opacity": 1, "strokeWidth": 1, "strokeDash": [3, 2], "color": "#6b7280",
            "shape": "M-9,8C-15,8 -15,1 -9,0C-9,-7 0,-9 3,-4C7,-6 11,-3 10,1C15,2 14,8 9,8Z"
          }
        }
      ]
    },
    {
      "encoding": {
        "x": {
          "field": "col", "type": "quantitative", "axis": null,
          "scale": {
            "domain": [0, 1, 2, 3, 4, 5, 6, 7, 8, 9, 10, 11, 12, 13, 14, 15, 16, 17, 18, 19, 20, 21, 22, 23, 24, 25, 26, 27, 28, 29, 30, 31, 32, 33, 34, 35, 36, 37, 38, 39, 40, 41, 42, 43, 44],
            "range": [25, 54, 58, 64, 68, 141, 146, 158.4, 224.6, 245.6, 248.6, 273.5, 311.5, 366.5, 380.5, 407.6, 461.5, 489.5, 501.5, 553.5, 565.4, 586.5, 621.6, 641.6, 653.6, 678.7, 707.8, 733.8, 760.5, 772, 805, 816, 966.4, 1064.7, 1084.7, 1090.7, 1101.8, 1135.8, 1168, 1322, 1346.4, 1360.4, 1372.4, 1376.4, 1514.8],
            "zero": false, "nice": false
          }
        },
        "y": {
          "field": "row", "type": "quantitative", "axis": null,
          "scale": {
            "domain": [0, 1, 2, 3, 4, 5, 6, 7, 8, 9, 10],
            "range": [30, 101.3, 155.4, 195.5, 235.6, 275.7, 331.8, 377, 405, 703.8, 768],
            "zero": false, "nice": false
          }
        },
        "text": {"field": "text", "type": "nominal"},
        "color": {
          "field": "kind", "type": "nominal", "legend": null,
          "scale": {
            "domain": ["logo", "navActive", "nav", "money", "stars", "head", "cell", "loss", "hint", "dark", "tv", "title", "legend", "red", "link", "white"],
            "range": ["#4b93d8", "#2f6fc6", "#33425b", "#6b7280", "#2a3f5f", "#5f6b7c", "#35445c", "#e0404c", "#b8c2d2", "#1f2c40", "#3a3d45", "#131722", "#6a6d78", "#ef5350", "#2f6fc6", "#ffffff"]
          }
        }
      },
      "layer": [
        {"data": {"name": "labelsLarge"}, "mark": {"type": "text", "align": "left", "baseline": "middle", "font": "Roboto", "fontSize": 21.8}},
        {"data": {"name": "labelsTitle"}, "mark": {"type": "text", "align": "left", "baseline": "middle", "font": "Roboto", "fontSize": 17.8}},
        {"data": {"name": "labelsTv"}, "mark": {"type": "text", "align": "left", "baseline": "middle", "font": "Roboto", "fontSize": 16}},
        {"data": {"name": "labelsChart"}, "mark": {"type": "text", "align": "left", "baseline": "middle", "font": "Roboto", "fontSize": 15}},
        {"data": {"name": "labelsLink"}, "mark": {"type": "text", "align": "left", "baseline": "middle", "font": "Roboto", "fontSize": 14}},
        {"data": {"name": "labelsLeft"}, "mark": {"type": "text", "align": "left", "baseline": "middle", "font": "Roboto", "fontSize": 14.4}},
        {"data": {"name": "labelsRight"}, "mark": {"type": "text", "align": "right", "baseline": "middle", "font": "Roboto", "fontSize": 14.4}},
        {"data": {"name": "labelsCenter"}, "mark": {"type": "text", "align": "center", "baseline": "middle", "font": "Roboto", "fontSize": 14.4}},
        {"data": {"name": "labelsMono"}, "mark": {"type": "text", "align": "left", "baseline": "middle", "font": "Liberation Mono", "fontSize": 13.2}}
      ]
    }
  ]
}
